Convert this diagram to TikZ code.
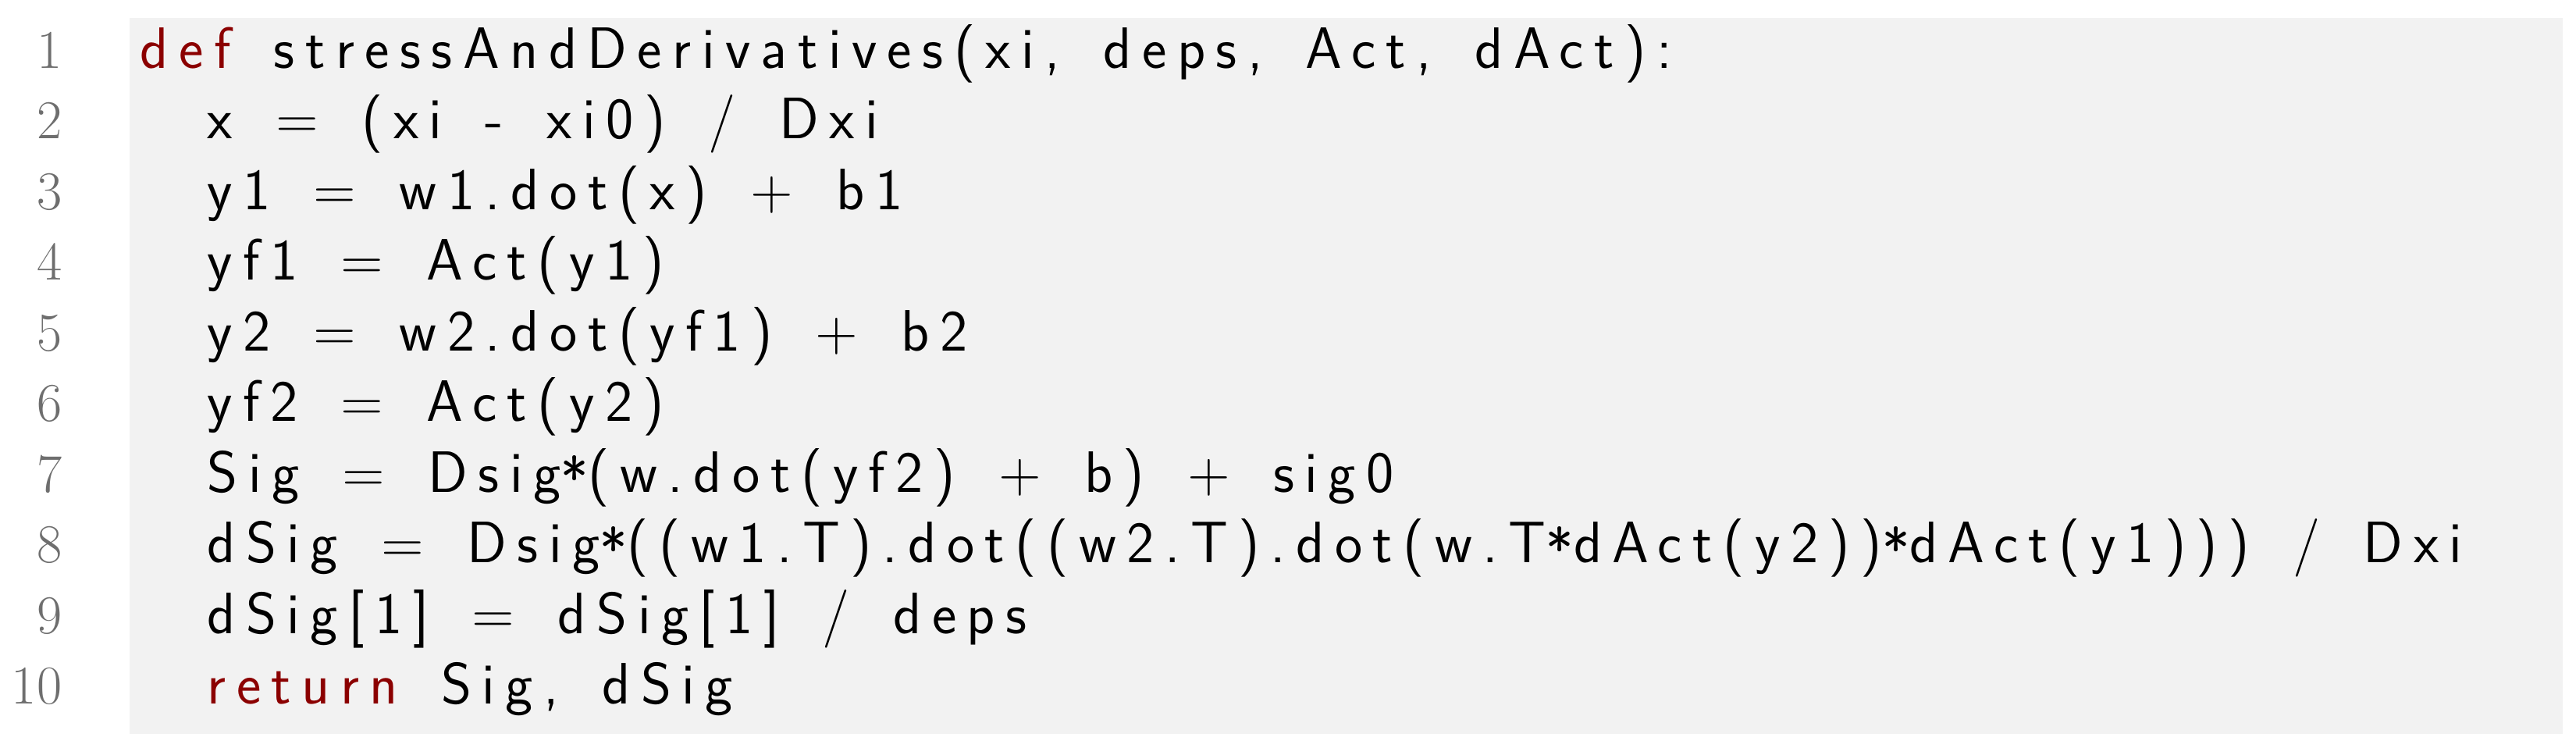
\documentclass[tikz,border=0pt]{standalone}
\usepackage{fontspec}
\newfontfamily\codefont{Latin Modern Sans}[LetterSpace=18,WordSpace=1.5]
\definecolor{kw}{RGB}{139,0,0}
\definecolor{bg}{RGB}{242,242,242}
\definecolor{num}{RGB}{110,110,110}
\newcommand\lowstar{\raisebox{-0.3ex}{*}}
\begin{document}
\begin{tikzpicture}[x=1pt,y=1pt,
  code/.style={anchor=base west,inner sep=0pt,font=\fontsize{18.7}{22}\codefont},
  lnum/.style={anchor=base east,inner sep=0pt,font=\fontsize{17.5}{21}\rmfamily,text=num}]
\useasboundingbox (0,0) rectangle (825,-239.25);
\fill[bg] (41.5,-5.75) rectangle (820.75,-235);
\def\pitch{22.625}
\foreach \i in {1,...,10}{\node[lnum] (n\i) at (20,{-21.75-(\i-1)*\pitch}) {\i};}
\node[code] (l1) at (44.75,-21.75) {\textcolor{kw}{def} stressAndDerivatives(xi, deps, Act, dAct):};
\node[code] (l2) at (44.75,{-21.75-1*\pitch}) {\hphantom{dd}x = (xi - xi0) / Dxi};
\node[code] (l3) at (44.75,{-21.75-2*\pitch}) {\hphantom{dd}y1 = w1.dot(x) + b1};
\node[code] (l4) at (44.75,{-21.75-3*\pitch}) {\hphantom{dd}yf1 = Act(y1)};
\node[code] (l5) at (44.75,{-21.75-4*\pitch}) {\hphantom{dd}y2 = w2.dot(yf1) + b2};
\node[code] (l6) at (44.75,{-21.75-5*\pitch}) {\hphantom{dd}yf2 = Act(y2)};
\node[code] (l7) at (44.75,{-21.75-6*\pitch}) {\hphantom{dd}Sig = Dsig\lowstar(w.dot(yf2) + b) + sig0};
\node[code] (l8) at (44.75,{-21.75-7*\pitch}) {\hphantom{dd}dSig = Dsig\lowstar((w1.T).dot((w2.T).dot(w.T\lowstar dAct(y2))\lowstar dAct(y1))) / Dxi};
\node[code] (l9) at (44.75,{-21.75-8*\pitch}) {\hphantom{dd}dSig[1] = dSig[1] / deps};
\node[code] (l10) at (44.75,{-21.75-9*\pitch}) {\hphantom{dd}\textcolor{kw}{return} Sig, dSig};
\end{tikzpicture}
\end{document}
